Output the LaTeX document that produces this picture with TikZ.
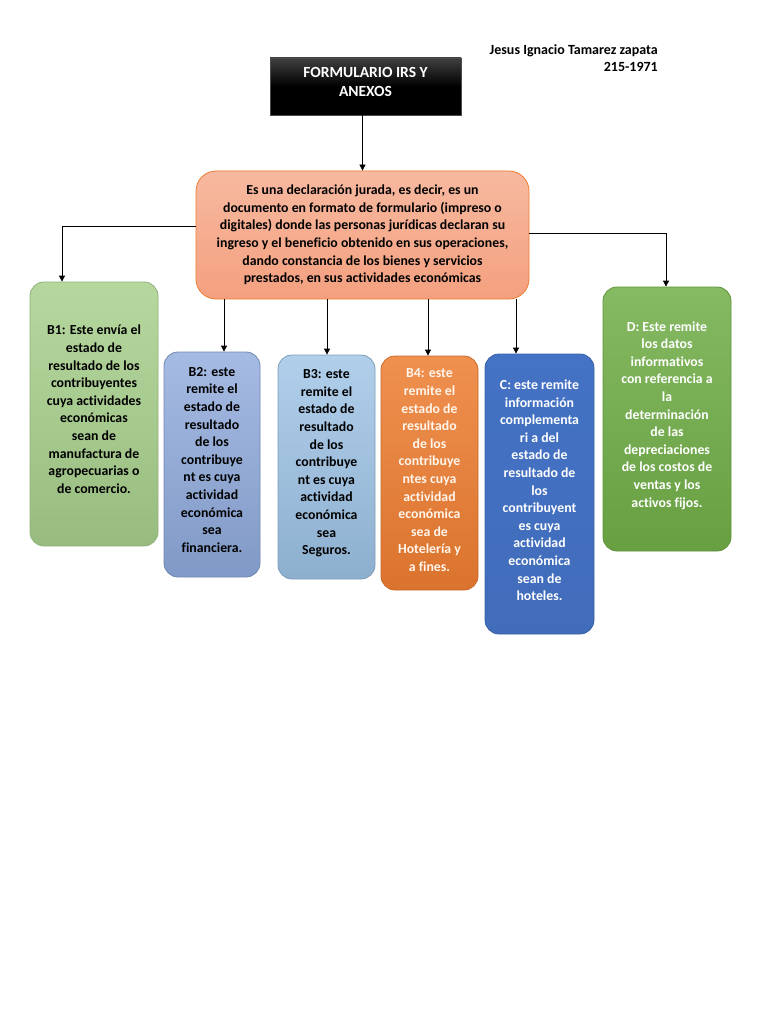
\documentclass[tikz,border=0pt]{standalone}
\usepackage{fontspec}
\setmainfont{Carlito}[Ligatures=NoCommon]
\usetikzlibrary{arrows.meta}
\definecolor{maintop}{HTML}{F7B9A0}
\definecolor{mainbot}{HTML}{F4A07F}
\definecolor{mainline}{HTML}{ED7D31}
\definecolor{bonegreen}{HTML}{A9D18E}
\definecolor{btwoblue}{HTML}{8FAADC}
\definecolor{bthreeblue}{HTML}{9DC3E6}
\definecolor{bfourorange}{HTML}{ED7D31}
\definecolor{cblue}{HTML}{4472C4}
\definecolor{dgreen}{HTML}{70AD47}
\tikzset{
  x=1pt, y=-1pt,
  boxbase/.style={rounded corners=14pt, inner sep=0pt, align=center, font=\bfseries\fontsize{13.8}{17.6}\selectfont, line width=0.8pt},
  conn/.style={draw=black, line width=0.8pt, -{Triangle[length=6pt,width=6pt]}},
}
\begin{document}
\begin{tikzpicture}
\useasboundingbox[fill=white] (0,0) rectangle (768,1024);
% author
\node[anchor=north east, align=right, font=\bfseries\fontsize{14}{17}\selectfont, inner sep=0pt] (author) at (658,44) {Jesus Ignacio Tamarez zapata\\215-1971};
% title
\node[minimum width=191pt, minimum height=57pt, inner sep=0pt, top color=black!75, bottom color=black, middle color=black, draw=black!70, line width=0.5pt, text=white, align=center, font=\bfseries\fontsize{15.5}{19.5}\selectfont] (title) at (365.5,86.5) {FORMULARIO IRS Y\\ANEXOS\\[-10.5pt]};
% main
\node[boxbase, rounded corners=20pt, minimum width=333pt, minimum height=128pt, top color=maintop, bottom color=mainbot, draw=mainline] (main) at (362.5,235) {Es una declaración jurada, es decir, es un\\documento en formato de formulario (impreso o\\digitales) donde las personas jurídicas declaran su\\ingreso y el beneficio obtenido en sus operaciones,\\dando constancia de los bienes y servicios\\prestados, en sus actividades económicas};
% B1
\node[boxbase, minimum width=128pt, minimum height=264pt, top color=bonegreen!85, bottom color=bonegreen!90!black, draw=bonegreen!85!black] (b1) at (94,414) {B1: Este envía el\\estado de\\resultado de los\\contribuyentes\\cuya actividades\\económicas\\sean de\\manufactura de\\agropecuarias o\\de comercio.\\[-8pt]};
% B2
\node[boxbase, minimum width=96pt, minimum height=225pt, top color=btwoblue!80, bottom color=btwoblue!90!black, draw=btwoblue!80!black] (b2) at (212,464.5) {B2: este\\remite el\\estado de\\resultado\\de los\\contribuye\\nt es cuya\\actividad\\económica\\sea\\financiera.\\[-8pt]};
% B3
\node[boxbase, minimum width=97pt, minimum height=224pt, top color=bthreeblue!80, bottom color=bthreeblue!90!black, draw=bthreeblue!80!black] (b3) at (326.5,467) {B3: este\\remite el\\estado de\\resultado\\de los\\contribuye\\nt es cuya\\actividad\\económica\\sea\\Seguros.\\[-8pt]};
% B4
\node[boxbase, minimum width=97pt, minimum height=234pt, top color=bfourorange!85!white, bottom color=bfourorange!92!black, draw=bfourorange!85!black, text=white!92!orange] (b4) at (429.5,473) {B4: este\\remite el\\estado de\\resultado\\de los\\contribuye\\ntes cuya\\actividad\\económica\\sea de\\Hotelería y\\a fines.\\[-12pt]};
% C
\node[boxbase, minimum width=109pt, minimum height=280pt, top color=cblue, bottom color=cblue!95!black, draw=cblue!85!black, text=white] (c) at (539.5,494) {C: este remite\\información\\complementa\\ri a del\\estado de\\resultado de\\los\\contribuyent\\es cuya\\actividad\\económica\\sean de\\hoteles.\\[-10pt]};
% D
\node[boxbase, minimum width=128pt, minimum height=264pt, top color=dgreen!85!white, bottom color=dgreen!92!black, draw=dgreen!85!black, text=white] (d) at (667,419) {D: Este remite\\los datos\\informativos\\con referencia a\\la\\determinación\\de las\\depreciaciones\\de los costos de\\ventas y los\\activos fijos.\\[-8pt]};
% connectors
\draw[conn] (title.south -| main.north) -- (main.north);
\draw[conn] ([yshift=9pt]main.west) -| ([xshift=-32pt]b1.north);
\draw[conn] ([yshift=2pt]main.east) -| ([xshift=-1pt]d.north);
\draw[conn] ([xshift=12pt]b2.north |- main.south) -- ([xshift=12pt]b2.north);
\draw[conn] ([xshift=0.5pt]b3.north |- main.south) -- ([xshift=0.5pt]b3.north);
\draw[conn] ([xshift=-1.5pt]b4.north |- main.south) -- ([xshift=-1.5pt]b4.north);
\draw[conn] ([xshift=-23.5pt]c.north |- main.south) -- ([xshift=-23.5pt]c.north);
\end{tikzpicture}
\end{document}
